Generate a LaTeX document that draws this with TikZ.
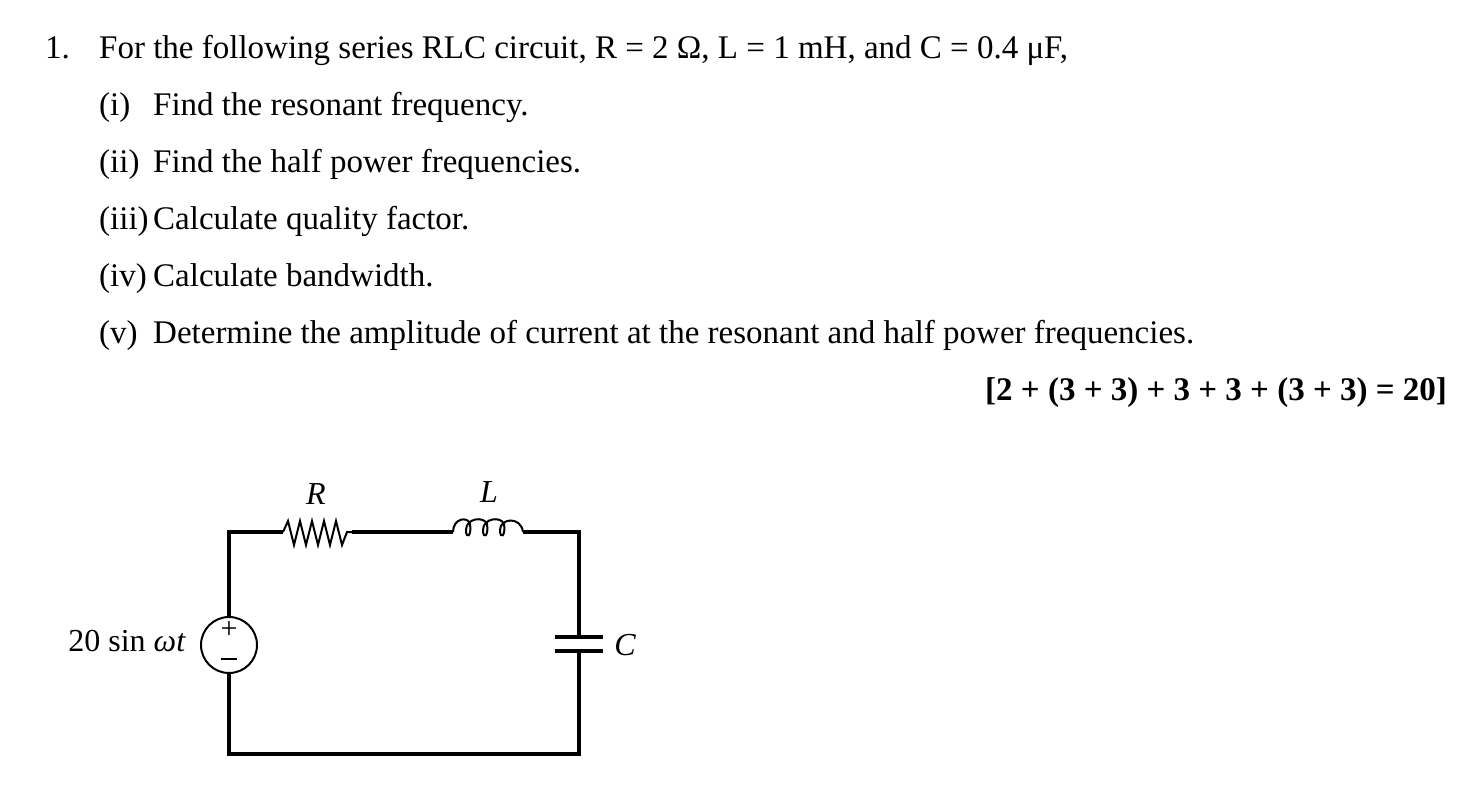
\documentclass[tikz,border=0pt]{standalone}
\usepackage{fontspec}
\setmainfont{Liberation Serif}
\begin{document}
\begin{tikzpicture}[x=1pt,y=-1pt,
  txt/.style={anchor=base west,inner sep=0pt,font=\fontsize{33}{36}\selectfont},
  lbl/.style={inner sep=0pt,font=\fontsize{32}{36}\selectfont\itshape},
  wire/.style={line width=3.4pt},
  thin/.style={line width=2pt}]
\useasboundingbox (0,0) rectangle (1467,788);
\node[txt] (n1) at (45,58) {1.};
\node[txt] (q) at (99,58) {For the following series RLC circuit, R = 2 Ω, L = 1 mH, and C = 0.4 μF,};
\node[txt] (a1) at (99,115) {(i)};
\node[txt] (a2) at (153,115) {Find the resonant frequency.};
\node[txt] (b1) at (99,172) {(ii)};
\node[txt] (b2) at (153,172) {Find the half power frequencies.};
\node[txt] (c1) at (99,229) {(iii)};
\node[txt] (c2) at (153,229) {Calculate quality factor.};
\node[txt] (d1) at (99,286) {(iv)};
\node[txt] (d2) at (153,286) {Calculate bandwidth.};
\node[txt] (e1) at (99,343) {(v)};
\node[txt] (e2) at (153,343) {Determine the amplitude of current at the resonant and half power frequencies.};
\node[txt,anchor=base east,font=\fontsize{33}{36}\selectfont\bfseries] (m) at (1447,400) {[2 + (3 + 3) + 3 + 3 + (3 + 3) = 20]};
% circuit
\coordinate (tl) at (229,532); \coordinate (tr) at (579,532);
\coordinate (bl) at (229,754); \coordinate (br) at (579,754);
\node[draw,circle,thin,minimum size=56pt,inner sep=0pt] (src) at (229,645) {};
\node[inner sep=0pt,font=\fontsize{30}{30}\selectfont] (pl) at (229,630) {+};
\draw[thin] (221,659) -- (237,659);
\coordinate (r1) at (283,532); \coordinate (r2) at (352,532);
\coordinate (l1) at (453,532); \coordinate (l2) at (523,532);
\coordinate (c1t) at (579,637); \coordinate (c2t) at (579,651);
\draw[wire] (src.north) -- (tl) -- (r1);
\draw[thin] (r1) -- (288,521) -- (294,545) -- (300,521) -- (306,545) -- (312,521) -- (318,545) -- (324,521) -- (330,545) -- (336,521) -- (342,545) -- (347,532) -- (r2);
\draw[wire] (r2) -- (l1);
\draw[thin] (l1) .. controls (453,518) and (468,516) .. (470,524)
  .. controls (472,536) and (466,540) .. (466,530) .. controls (466,518) and (484,516) .. (487,524)
  .. controls (489,536) and (483,540) .. (483,530) .. controls (483,518) and (501,516) .. (504,524)
  .. controls (506,536) and (500,540) .. (500,530) .. controls (500,518) and (521,516) .. (l2);
\draw[wire] (l2) -- (tr) -- (c1t);
\draw[wire] (c2t) -- (br) -- (bl) -- (src.south);
\draw[wire] (555,637) -- (603,637);
\draw[wire] (555,651) -- (603,651);
\node[lbl] (rl) at (316,494) {R};
\node[lbl] (ll) at (489,492) {L};
\node[lbl] (cl) at (625,645) {C};
\node[inner sep=0pt,anchor=east,font=\fontsize{32}{36}\selectfont] (vs) at (186,641) {20 sin \textit{ωt}};
\end{tikzpicture}
\end{document}
